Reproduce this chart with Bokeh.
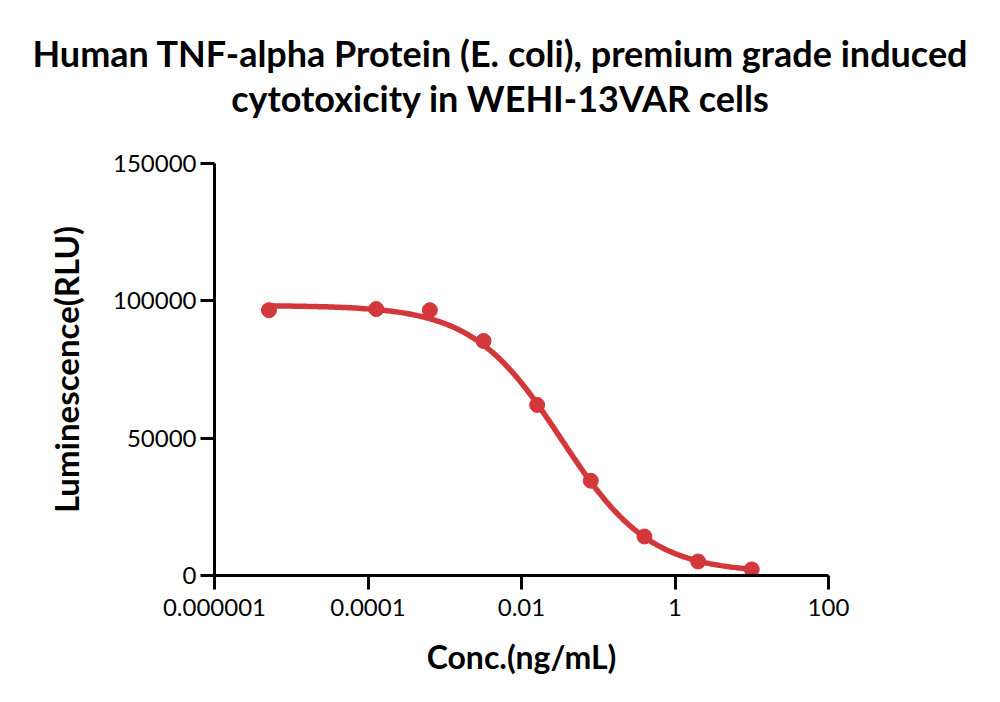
import numpy as np
from bokeh.plotting import figure
from bokeh.layouts import column
from bokeh.models import FixedTicker, ColumnDataSource, Div
from bokeh.embed import file_html
from bokeh.resources import INLINE

# Measured dose-response (5-fold dilution series, ng/mL)
conc = [5.12e-6, 1.28e-4, 6.4e-4, 3.2e-3, 0.016, 0.08, 0.4, 2.0, 10.0]
rlu = [96600, 97000, 96600, 85400, 62100, 34500, 14200, 5100, 2200]

# Four-parameter logistic fit of the series above
fit_top = 98300
fit_bottom = 1000
fit_ec50 = 0.033
fit_hill = 0.75

x_ticks = [1e-6, 1e-4, 1e-2, 1, 100]
x_tick_labels = ["0.000001", "0.0001", "0.01", "1", "100"]
y_ticks = [0, 50000, 100000, 150000]
y_tick_labels = ["0", "50000", "100000", "150000"]

title_lines = [
    "Human TNF-alpha Protein (E. coli), premium grade induced",
    "cytotoxicity in WEHI-13VAR cells",
]

RED = "#D2373C"
FONT = "Lato"
W = 1000
HEAD_H = 143      # height of the title strip
MAIN_H = 559      # height of the chart below it

# ---- centred two-line title ----
head = Div(
    text="<br>".join(title_lines),
    width=W, height=HEAD_H, margin=0,
    styles={
        "width": f"{W}px",
        "box-sizing": "border-box",
        "padding-top": "31px",
        "text-align": "center",
        "font-family": FONT,
        "font-weight": "bold",
        "font-size": "36px",
        "line-height": "45px",
        "color": "black",
        "white-space": "nowrap",
    },
)

# ---- dose-response chart ----
xs = np.logspace(np.log10(conc[0]), np.log10(conc[-1]), 300)
ys = fit_bottom + (fit_top - fit_bottom) / (1 + (xs / fit_ec50) ** fit_hill)

p = figure(
    width=W, height=MAIN_H,
    x_axis_type="log",
    x_range=(1e-6, 100), y_range=(0, 150000),
    output_backend="svg", toolbar_location=None,
    min_border_left=214, min_border_right=172,
    min_border_top=20, min_border_bottom=127,
)
p.outline_line_color = None
p.grid.visible = False
p.background_fill_color = "white"
p.border_fill_color = "white"

p.line(xs, ys, line_color=RED, line_width=5.5)
p.scatter(x="x", y="y", source=ColumnDataSource(dict(x=conc, y=rlu)),
          size=15, fill_color=RED, line_color=RED)

for ax in (p.xaxis[0], p.yaxis[0]):
    ax.axis_line_width = 3
    ax.axis_line_color = "black"
    ax.major_tick_line_width = 3
    ax.major_tick_line_color = "black"
    ax.major_tick_out = 14
    ax.major_tick_in = 0
    ax.minor_tick_line_color = None
    ax.major_label_text_font = FONT
    ax.major_label_text_font_size = "24px"
    ax.major_label_text_color = "black"
    ax.axis_label_text_font = FONT
    ax.axis_label_text_font_style = "bold"
    ax.axis_label_text_color = "black"

p.xaxis.ticker = FixedTicker(ticks=x_ticks)
p.xaxis.major_label_overrides = dict(zip(x_ticks, x_tick_labels))
p.xaxis.axis_label = "Conc.(ng/mL)"
p.xaxis.axis_label_text_font_size = "32px"
p.xaxis.major_label_standoff = 9
p.xaxis.axis_label_standoff = 18

p.yaxis.ticker = FixedTicker(ticks=y_ticks)
p.yaxis.major_label_overrides = dict(zip(y_ticks, y_tick_labels))
p.yaxis.axis_label = "Luminescence(RLU)"
p.yaxis.axis_label_text_font_size = "33px"
p.yaxis.major_label_standoff = 4
p.yaxis.axis_label_standoff = 24

page = column(head, p, spacing=0)
open("out.html", "w").write(file_html(page, INLINE))
